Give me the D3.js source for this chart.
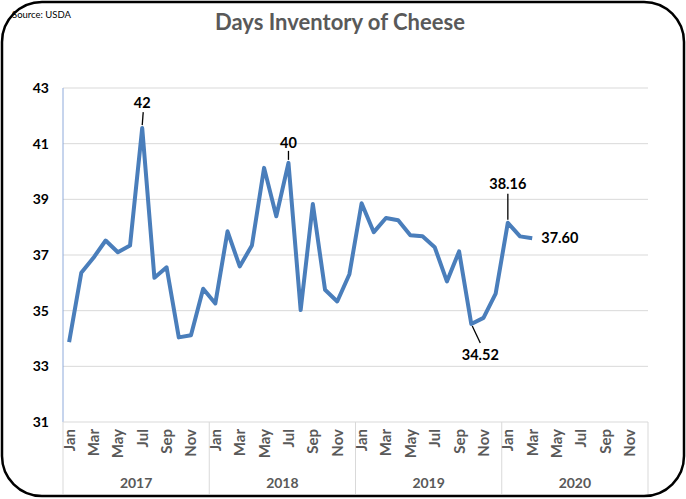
<!DOCTYPE html>
<html><head><meta charset="utf-8">
<script src="https://cdn.jsdelivr.net/npm/d3@7"></script>
<style>body{margin:0;background:#fff}svg{display:block}</style>
</head><body>
<svg id="c" width="686" height="499"></svg>
<script>
const years = ["2017","2018","2019","2020"];
const monthNames = ["Jan","Feb","Mar","Apr","May","Jun","Jul","Aug","Sep","Oct","Nov","Dec"];
const values2017 = [33.87,36.36,36.90,37.52,37.10,37.34,41.56,36.18,36.56,34.04,34.12,35.79];
const values2018 = [35.26,37.85,36.59,37.34,40.13,38.39,40.31,35.02,38.83,35.75,35.33,36.31];
const values2019 = [38.86,37.82,38.33,38.25,37.71,37.67,37.28,36.05,37.13,34.52,34.74,35.61];
const values2020 = [38.16,37.67,37.60];
const yTicks = [31,33,35,37,39,41,43];
const labelled = [
  {year:"2017", month:"Jul", text:"42"},
  {year:"2018", month:"Jul", text:"40"},
  {year:"2019", month:"Oct", text:"34.52"},
  {year:"2020", month:"Jan", text:"38.16"},
  {year:"2020", month:"Mar", text:"37.60"}
];

const font = "Lato, 'Open Sans', sans-serif";
const svg = d3.select("#c");

const allVals = [values2017, values2018, values2019, values2020];
const cats = [];
years.forEach(y => monthNames.forEach(m => cats.push(y + "-" + m)));
const data = [];
allVals.forEach((arr, i) => arr.forEach((v, j) => data.push({key: years[i] + "-" + monthNames[j], v})));

const x = d3.scaleBand().domain(cats).range([63, 648]);
const y = d3.scaleLinear().domain([31, 43]).range([422, 88]);
const cx = k => x(k) + x.bandwidth() / 2;

// frame
svg.append("rect").attr("x",2).attr("y",2).attr("width",682).attr("height",494)
  .attr("rx",40).attr("ry",40).attr("fill","#fff").attr("stroke","#000").attr("stroke-width",2.5);

svg.append("text").attr("x",12).attr("y",18).attr("font-family",font).attr("font-size",9.5)
  .attr("fill","#000").text("Source: USDA");

svg.append("text").attr("x",340).attr("y",30).attr("text-anchor","middle")
  .attr("font-family",font).attr("font-weight","bold").attr("font-size",22)
  .attr("fill","#595959").text("Days Inventory of Cheese");

// gridlines
svg.append("g").selectAll("line").data(yTicks.filter(t => t > 31)).join("line")
  .attr("x1",63).attr("x2",648).attr("y1",d=>y(d)).attr("y2",d=>y(d))
  .attr("stroke","#d9d9d9").attr("stroke-width",1);

// y axis labels
svg.append("g").selectAll("text").data(yTicks).join("text")
  .attr("x",49).attr("y",d=>y(d)+5).attr("text-anchor","end")
  .attr("font-family",font).attr("font-weight","bold").attr("font-size",14)
  .attr("fill","#000").text(d=>d);

// y axis line
svg.append("line").attr("x1",63).attr("x2",63).attr("y1",88).attr("y2",422)
  .attr("stroke","#8eaadb").attr("stroke-width",1);

// x axis line
svg.append("line").attr("x1",63).attr("x2",648).attr("y1",422).attr("y2",422)
  .attr("stroke","#d9d9d9").attr("stroke-width",1);

// year separators
const yearBounds = years.map(yr => x(yr + "-Jan")).concat([648]);
svg.append("g").selectAll("line").data(yearBounds).join("line")
  .attr("x1",d=>d).attr("x2",d=>d).attr("y1",422).attr("y2",494)
  .attr("stroke","#d9d9d9").attr("stroke-width",1);

// month labels (odd months)
const monthLabelCats = cats.filter(k => ["Jan","Mar","May","Jul","Sep","Nov"].includes(k.split("-")[1]));
svg.append("g").selectAll("text").data(monthLabelCats).join("text")
  .attr("transform", k => `translate(${cx(k)+5.5},429) rotate(-90)`)
  .attr("text-anchor","end")
  .attr("font-family",font).attr("font-weight","bold").attr("font-size",15)
  .attr("fill","#595959").text(k => k.split("-")[1]);

// year labels
svg.append("g").selectAll("text").data(years).join("text")
  .attr("x", yr => (x(yr+"-Jan") + x(yr+"-Dec") + x.bandwidth())/2)
  .attr("y", 488).attr("text-anchor","middle")
  .attr("font-family",font).attr("font-weight","bold").attr("font-size",14)
  .attr("fill","#595959").text(yr => yr);

// line
svg.append("path").datum(data)
  .attr("d", d3.line().x(d=>cx(d.key)).y(d=>y(d.v)))
  .attr("fill","none").attr("stroke","#4a7ebb").attr("stroke-width",4)
  .attr("stroke-linejoin","round");

// annotations
const dataMap = new Map(data.map(d => [d.key, d.v]));
const ann = svg.append("g").attr("font-family",font).attr("font-weight","bold").attr("font-size",14.5).attr("fill","#000");
const cfg = {
  "42":    {dx:0, dy:-25, l:[[1,-16],[0,-3]], anchor:"middle"},
  "40":    {dx:0, dy:-20, l:[[0,-12],[0,-3]], anchor:"middle"},
  "38.16": {dx:0, dy:-39, l:[[0,-29],[0,-3]], anchor:"middle"},
  "34.52": {dx:9, dy:31, l:[[1,2],[9,19]], anchor:"middle"},
  "37.60": {dx:9, dy:0, l:null, anchor:"start"}
};
labelled.forEach(a => {
  const k = a.year + "-" + a.month;
  const px = cx(k), py = y(dataMap.get(k));
  const c = cfg[a.text];
  ann.append("text").attr("x", px + c.dx).attr("y", py + c.dy + 5)
    .attr("text-anchor", c.anchor).text(a.text);
  if (c.l) {
    ann.append("line").attr("x1", px + c.l[0][0]).attr("y1", py + c.l[0][1])
      .attr("x2", px + c.l[1][0]).attr("y2", py + c.l[1][1])
      .attr("stroke","#000").attr("stroke-width",1.3);
  }
});
</script>
</body></html>
